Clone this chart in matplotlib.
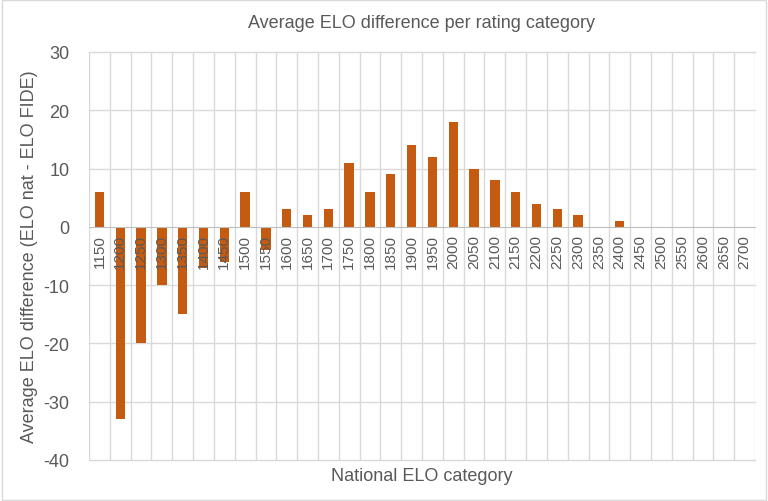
import numpy as np
import matplotlib.pyplot as plt

categories = [str(c) for c in range(1150, 2701, 50)]
values = [6, -33, -20, -10, -15, -7, -6, 6, -4, 3,
          2, 3, 11, 6, 9, 14, 12, 18, 10, 8,
          6, 4, 3, 2, 0, 1, 0, 0, 0, 0,
          0, 0]
yticks = [-40, -30, -20, -10, 0, 10, 20, 30]

plt.rcParams['font.family'] = ['Liberation Sans', 'DejaVu Sans']
plt.rcParams['axes.unicode_minus'] = False
textc = '#595959'
gridc = '#D9D9D9'
barc = '#C55A11'

fig = plt.figure(figsize=(7.68, 5.02), dpi=100)
ax = fig.add_axes([89/768, 1 - 461/502, (755-89)/768, (461-53)/502])

# axis line sits at zero, like the excel chart
ax.spines['bottom'].set_position(('data', 0))
ax.spines['bottom'].set_color('#BFBFBF')
ax.spines['bottom'].set_zorder(3)
for s in ['top', 'left', 'right']:
    ax.spines[s].set_visible(False)

x = np.arange(len(categories))
ax.bar(x, values, width=0.45, color=barc, zorder=2)

# grid drawn by hand so it stays under the bars while tick labels stay on top
for yv in yticks:
    if yv != 0:
        ax.axhline(yv, color=gridc, linewidth=1, zorder=0.5, clip_on=False)
for xv in np.arange(-0.5, len(categories), 1):
    ax.axvline(xv, color=gridc, linewidth=1, zorder=0.5)

ax.set_xlim(-0.5, len(categories) - 0.5)
ax.set_ylim(-40, 30)
ax.set_yticks(yticks)
ax.set_xticks(x)
ax.set_xticklabels(categories, rotation=90, color=textc, fontsize=11)
ax.xaxis.set_zorder(3)

ax.tick_params(axis='x', which='both', length=0, pad=5)
ax.tick_params(axis='y', length=0, labelsize=13, labelcolor=textc, pad=14)

ax.set_title('Average ELO difference per rating category', fontsize=13,
             color=textc, pad=18)
fig.text(422/768, 1 - 477/502, 'National ELO category', fontsize=13,
         color=textc, ha='center', va='center')
fig.text(30/768, 1 - 257/502, 'Average ELO difference (ELO nat - ELO FIDE)',
         fontsize=13, color=textc, ha='center', va='center', rotation=90)

fig.patches.append(plt.Rectangle((0.002, 0.002), 0.996, 0.996, transform=fig.transFigure,
                                 fill=False, edgecolor='#D9D9D9', linewidth=1))

fig.savefig('out.png', dpi=100)
